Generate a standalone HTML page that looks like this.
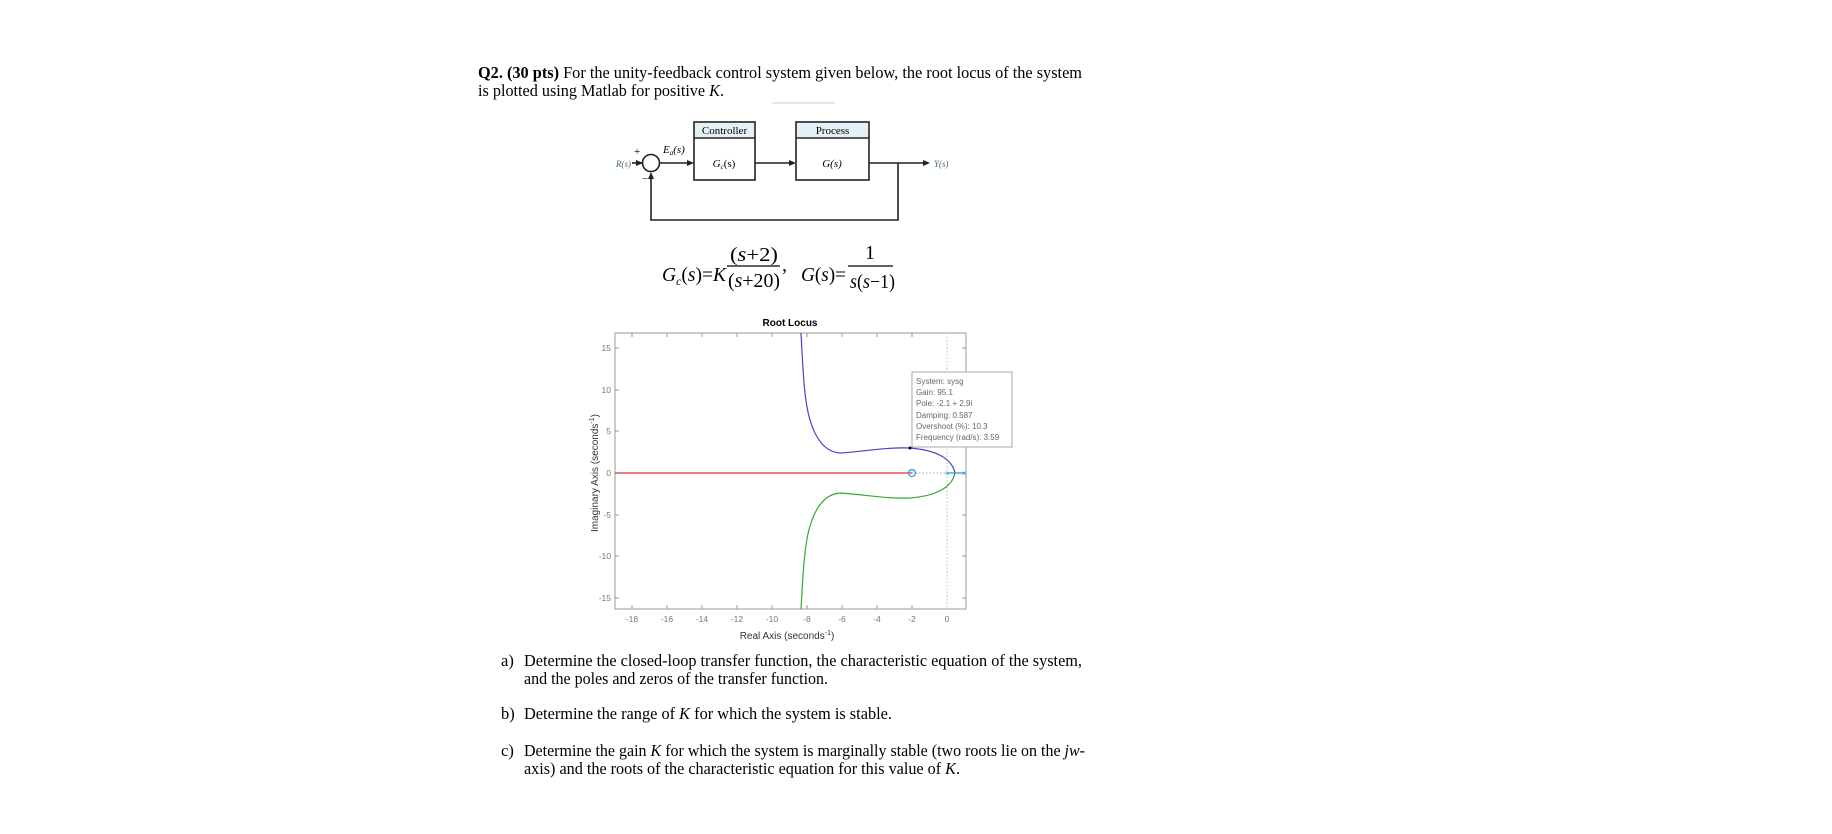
<!DOCTYPE html>
<html><head><meta charset="utf-8"><style>
html,body{margin:0;padding:0;background:#fff;}
svg{display:block;}
.t{font-family:"Liberation Serif",serif;}
.s{font-family:"Liberation Sans",sans-serif;}
</style></head><body>
<svg width="1832" height="834" viewBox="0 0 1832 834" xmlns="http://www.w3.org/2000/svg">
<!-- Title -->
<text class="t" x="478" y="78" font-size="16.5" textLength="604" lengthAdjust="spacingAndGlyphs"><tspan font-weight="bold">Q2.</tspan> <tspan font-weight="bold">(30 pts)</tspan> For the unity-feedback control system given below, the root locus of the system</text>
<text class="t" x="478" y="96" font-size="16.5" textLength="246" lengthAdjust="spacingAndGlyphs">is plotted using Matlab for positive <tspan font-style="italic">K</tspan>.</text>
<line x1="772" y1="103" x2="835" y2="103" stroke="#ccc" stroke-width="1"/>

<!-- Block diagram -->
<g stroke="#222" stroke-width="1.6" fill="none">
<rect x="694" y="122" width="61" height="58"/>
<line x1="694" y1="138" x2="755" y2="138"/>
<rect x="796" y="122" width="73" height="58"/>
<line x1="796" y1="138" x2="869" y2="138"/>
<circle cx="651" cy="163" r="8.5"/>
<line x1="632" y1="163" x2="642" y2="163"/>
<line x1="660" y1="163" x2="690" y2="163"/>
<line x1="755" y1="163" x2="792" y2="163"/>
<line x1="869" y1="163" x2="925" y2="163"/>
<polyline points="898,163 898,220 651,220 651,176"/>
</g>
<rect x="695" y="123" width="59" height="14" fill="#e3f1f4"/>
<rect x="797" y="123" width="71" height="14" fill="#e3f1f4"/>
<g fill="#222">
<polygon points="643,163 636,160 636,166"/>
<polygon points="694,163 687,160 687,166"/>
<polygon points="796,163 789,160 789,166"/>
<polygon points="930,163 923,160 923,166"/>
<polygon points="651,172 648,179 654,179"/>
</g>
<text class="t" x="724.5" y="134" font-size="11" text-anchor="middle">Controller</text>
<text class="t" x="832.5" y="134" font-size="11" text-anchor="middle">Process</text>
<text class="t" x="724" y="167" font-size="11" text-anchor="middle" font-style="italic">G<tspan font-size="7" dy="2">c</tspan><tspan dy="-2" font-style="normal">(s)</tspan></text>
<text class="t" x="832" y="167" font-size="11" text-anchor="middle" font-style="italic">G(s)</text>
<text class="t" x="616" y="167" font-size="9" font-style="italic" fill="#4a6a80">R(s)</text>
<text class="t" x="934" y="167" font-size="9" font-style="italic" fill="#4a6a80">Y(s)</text>
<text class="t" x="663" y="153" font-size="11" font-style="italic">E<tspan font-size="7" dy="2">a</tspan><tspan dy="-2">(s)</tspan></text>
<text class="t" x="634" y="155" font-size="11">+</text>
<text class="t" x="642" y="182" font-size="11">−</text>

<!-- Equation -->
<g class="t" font-size="20">
<text x="662" y="281" font-style="italic" textLength="64" lengthAdjust="spacingAndGlyphs">G<tspan font-size="12" dy="4">c</tspan><tspan dy="-4" font-style="normal">(</tspan>s<tspan font-style="normal">)=</tspan>K</text>
<text x="730" y="261" textLength="48" lengthAdjust="spacingAndGlyphs">(<tspan font-style="italic">s</tspan>+2)</text>
<line x1="727" y1="266" x2="780" y2="266" stroke="#000" stroke-width="1.2"/>
<text x="728" y="287" textLength="52" lengthAdjust="spacingAndGlyphs">(<tspan font-style="italic">s</tspan>+20)</text>
<text x="782" y="271">,</text>
<text x="801" y="281" font-style="italic" textLength="45" lengthAdjust="spacingAndGlyphs">G<tspan font-style="normal">(</tspan>s<tspan font-style="normal">)=</tspan></text>
<text x="870" y="259" text-anchor="middle">1</text>
<line x1="848" y1="266" x2="893" y2="266" stroke="#000" stroke-width="1.2"/>
<text x="850" y="288" font-style="italic" textLength="45" lengthAdjust="spacingAndGlyphs">s<tspan font-style="normal">(</tspan>s<tspan font-style="normal">−1)</tspan></text>
</g>

<!-- Plot -->
<text class="s" x="790" y="326" font-size="10" font-weight="bold" text-anchor="middle">Root Locus</text>
<rect x="615" y="333" width="351" height="276" fill="#fff" stroke="#999" stroke-width="1"/>
<g stroke="#999" stroke-width="1">
<line x1="632" y1="609" x2="632" y2="605"/><line x1="632" y1="333" x2="632" y2="337"/>
<line x1="667" y1="609" x2="667" y2="605"/><line x1="667" y1="333" x2="667" y2="337"/>
<line x1="702" y1="609" x2="702" y2="605"/><line x1="702" y1="333" x2="702" y2="337"/>
<line x1="737" y1="609" x2="737" y2="605"/><line x1="737" y1="333" x2="737" y2="337"/>
<line x1="772" y1="609" x2="772" y2="605"/><line x1="772" y1="333" x2="772" y2="337"/>
<line x1="807" y1="609" x2="807" y2="605"/><line x1="807" y1="333" x2="807" y2="337"/>
<line x1="842" y1="609" x2="842" y2="605"/><line x1="842" y1="333" x2="842" y2="337"/>
<line x1="877" y1="609" x2="877" y2="605"/><line x1="877" y1="333" x2="877" y2="337"/>
<line x1="912" y1="609" x2="912" y2="605"/><line x1="912" y1="333" x2="912" y2="337"/>
<line x1="615" y1="348" x2="619" y2="348"/><line x1="966" y1="348" x2="962" y2="348"/>
<line x1="615" y1="390" x2="619" y2="390"/><line x1="966" y1="390" x2="962" y2="390"/>
<line x1="615" y1="431" x2="619" y2="431"/><line x1="966" y1="431" x2="962" y2="431"/>
<line x1="615" y1="473" x2="619" y2="473"/><line x1="966" y1="473" x2="962" y2="473"/>
<line x1="615" y1="515" x2="619" y2="515"/><line x1="966" y1="515" x2="962" y2="515"/>
<line x1="615" y1="556" x2="619" y2="556"/><line x1="966" y1="556" x2="962" y2="556"/>
<line x1="615" y1="598" x2="619" y2="598"/><line x1="966" y1="598" x2="962" y2="598"/>
</g>
<line x1="947" y1="333" x2="947" y2="609" stroke="#bbb" stroke-width="1" stroke-dasharray="1.5,2"/>
<line x1="912" y1="473" x2="947" y2="473" stroke="#9ab" stroke-width="1" stroke-dasharray="1.5,2"/>
<g class="s" font-size="8.5" fill="#777" text-anchor="middle">
<text x="632" y="622">-18</text><text x="667" y="622">-16</text><text x="702" y="622">-14</text>
<text x="737" y="622">-12</text><text x="772" y="622">-10</text><text x="807" y="622">-8</text>
<text x="842" y="622">-6</text><text x="877" y="622">-4</text><text x="912" y="622">-2</text><text x="947" y="622">0</text>
</g>
<g class="s" font-size="8.5" fill="#777" text-anchor="end">
<text x="611" y="351">15</text><text x="611" y="393">10</text><text x="611" y="434">5</text>
<text x="611" y="476">0</text><text x="611" y="518">-5</text><text x="611" y="559">-10</text><text x="611" y="601">-15</text>
</g>
<text class="s" x="787" y="639" font-size="10" fill="#333" text-anchor="middle">Real Axis (seconds<tspan font-size="7" dy="-4">-1</tspan><tspan dy="4">)</tspan></text>
<text class="s" transform="translate(598,473) rotate(-90)" font-size="10" fill="#333" text-anchor="middle">Imaginary Axis (seconds<tspan font-size="7" dy="-4">-1</tspan><tspan dy="4">)</tspan></text>

<line x1="615" y1="473" x2="912" y2="473" stroke="#d33" stroke-width="1.2"/>
<path d="M801,333 C803,370 804,400 810,420 C816,440 826,452 840,453 C860,452 885,447 910,448 C935,450 952,458 955,473" fill="none" stroke="#44c" stroke-width="1.2"/>
<path d="M801,609 C803,576 804,546 810,526 C816,506 826,494 840,493 C860,494 885,499 910,498 C935,496 952,488 955,473" fill="none" stroke="#3a3" stroke-width="1.2"/>
<line x1="947" y1="473" x2="965" y2="473" stroke="#39c" stroke-width="1.2"/>
<circle cx="912" cy="473" r="3.5" fill="none" stroke="#39c" stroke-width="1.2"/>
<text class="s" x="947" y="476" font-size="8" fill="#39c" text-anchor="middle">×</text>
<text class="s" x="964" y="476" font-size="8" fill="#39c" text-anchor="middle">×</text>
<circle cx="910" cy="448" r="1.5" fill="#000"/>

<rect x="912" y="372" width="100" height="75" fill="#fff" stroke="#aaa" stroke-width="1"/>
<g class="s" font-size="8" fill="#666">
<text x="916" y="384">System: sysg</text>
<text x="916" y="395">Gain: 95.1</text>
<text x="916" y="406">Pole: -2.1 + 2.9i</text>
<text x="916" y="418">Damping: 0.587</text>
<text x="916" y="429">Overshoot (%): 10.3</text>
<text x="916" y="440">Frequency (rad/s): 3.59</text>
</g>

<!-- Questions -->
<g class="t" font-size="16.5">
<text x="501" y="666">a)</text>
<text x="524" y="666" textLength="558" lengthAdjust="spacingAndGlyphs">Determine the closed-loop transfer function, the characteristic equation of the system,</text>
<text x="524" y="684" textLength="304" lengthAdjust="spacingAndGlyphs">and the poles and zeros of the transfer function.</text>
<text x="501" y="719">b)</text>
<text x="524" y="719" textLength="368" lengthAdjust="spacingAndGlyphs">Determine the range of <tspan font-style="italic">K</tspan> for which the system is stable.</text>
<text x="501" y="756">c)</text>
<text x="524" y="756" textLength="561" lengthAdjust="spacingAndGlyphs">Determine the gain <tspan font-style="italic">K</tspan> for which the system is marginally stable (two roots lie on the <tspan font-style="italic">jw</tspan>-</text>
<text x="524" y="774" textLength="436" lengthAdjust="spacingAndGlyphs">axis) and the roots of the characteristic equation for this value of <tspan font-style="italic">K</tspan>.</text>
</g>
</svg>
</body></html>
